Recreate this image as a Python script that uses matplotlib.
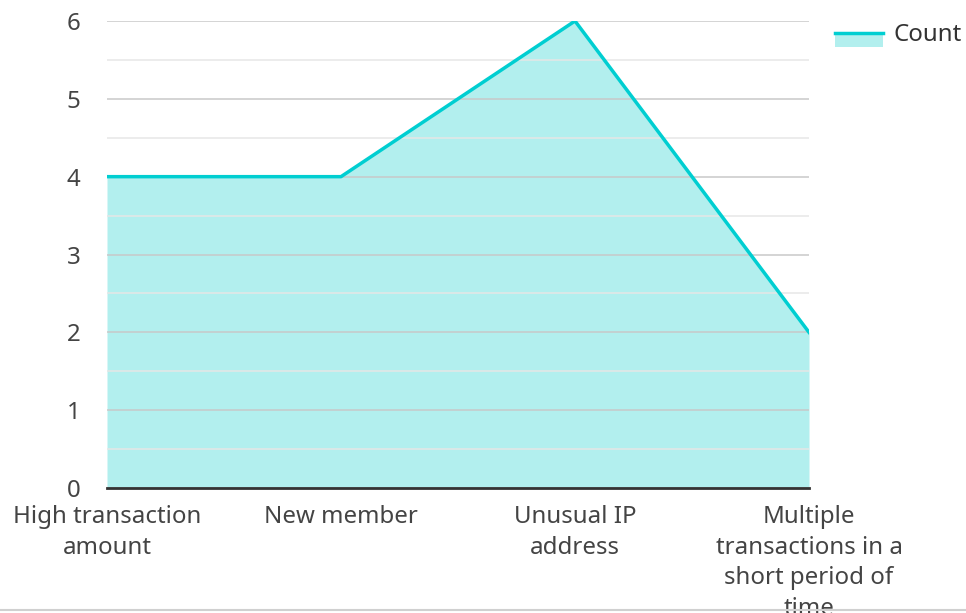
import matplotlib
matplotlib.use("Agg")
import matplotlib.pyplot as plt
from matplotlib.lines import Line2D
from matplotlib.patches import Rectangle
from matplotlib.legend_handler import HandlerBase

plt.rcParams['font.family'] = ['Noto Sans', 'DejaVu Sans']

categories = ["High transaction\namount", "New member", "Unusual IP\naddress",
              "Multiple\ntransactions in a\nshort period of\ntime"]
counts = [4, 4, 6, 2]
yticks = [0, 1, 2, 3, 4, 5, 6]
series_name = "Count"

line_color = "#00CED1"
fill_color = "#B2EFEE"
fs = 17.3

fig = plt.figure(figsize=(9.66, 6.13), dpi=100)
ax = fig.add_axes([107/966, 1-488/613, (809-107)/966, (488-21)/613])

x = list(range(len(categories)))
ax.fill_between(x, counts, 0, color=fill_color, linewidth=0, zorder=1)
ax.plot(x, counts, color=line_color, linewidth=2.5, zorder=3)

ax.set_xlim(0, len(categories)-1)
ax.set_ylim(0, 6)
ax.set_yticks(yticks)
ax.set_yticks([0.5, 1.5, 2.5, 3.5, 4.5, 5.5], minor=True)
ax.set_xticks(x)
ax.set_xticklabels(categories, linespacing=1.38)
ax.grid(axis='y', which='major', color='#c8c8c8', linewidth=1.2, alpha=0.9)
ax.grid(axis='y', which='minor', color='#e6e6e6', linewidth=1.2, alpha=0.9)
ax.tick_params(axis='both', which='both', length=0, labelsize=fs, colors='#444444')
ax.tick_params(axis='y', pad=19)
ax.tick_params(axis='x', pad=12)
for s in ['top', 'right', 'left']:
    ax.spines[s].set_visible(False)
ax.spines['bottom'].set_color('#333333')
ax.spines['bottom'].set_linewidth(2)
ax.spines['bottom'].set_zorder(4)


class AreaHandler(HandlerBase):
    def create_artists(self, legend, orig_handle, xdescent, ydescent, width, height, fontsize, trans):
        yc = -ydescent + height*0.5
        rect = Rectangle((-xdescent, yc - height*0.85), width, height*0.85,
                         facecolor=fill_color, edgecolor='none', transform=trans)
        ln = Line2D([-xdescent, -xdescent + width], [yc, yc],
                    color=line_color, linewidth=2.5, transform=trans)
        return [rect, ln]


proxy = Line2D([], [], color=line_color)
fig.legend([proxy], [series_name], handler_map={Line2D: AreaHandler()},
           loc='center left', bbox_to_anchor=(835/966, 1-35/613), frameon=False,
           borderpad=0, borderaxespad=0,
           fontsize=fs, handlelength=2.0, handletextpad=0.45, labelcolor='#333333')

fig.add_artist(Line2D([0, 1], [1-610/613, 1-610/613], color='#d0d0d0', linewidth=1.5,
                      transform=fig.transFigure))

fig.savefig("out.png", dpi=100)
